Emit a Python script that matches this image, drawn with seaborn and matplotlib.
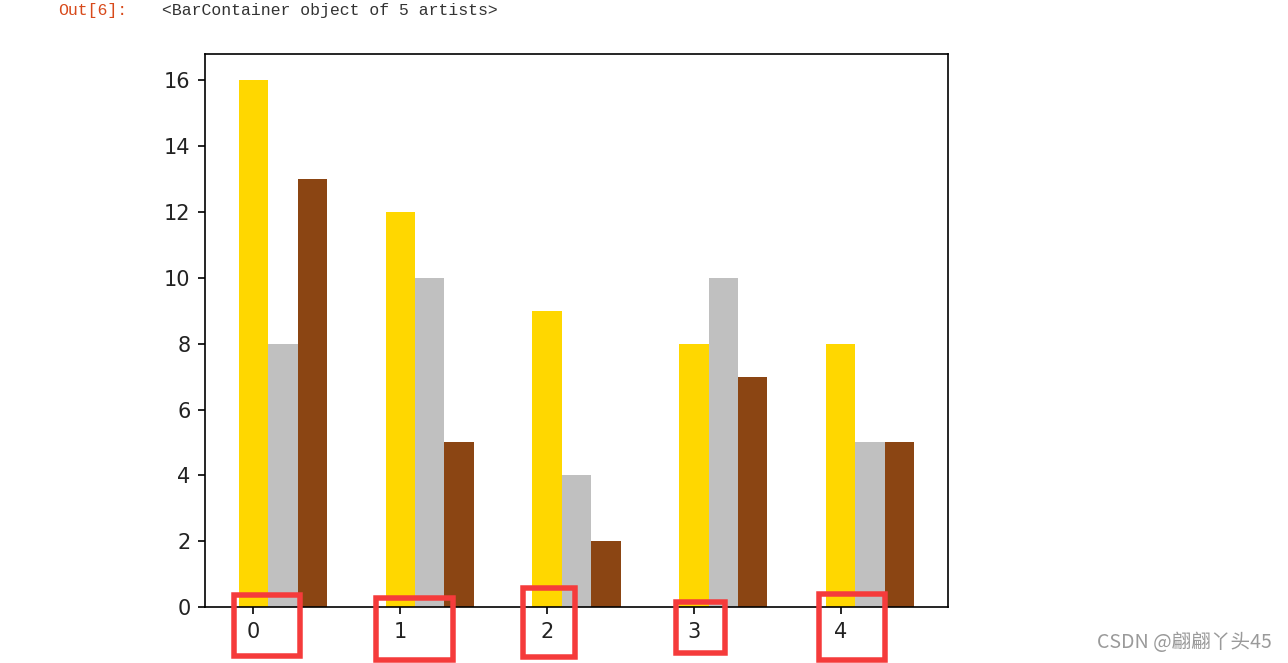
import numpy as np
import pandas as pd
import matplotlib
matplotlib.use("Agg")
import matplotlib.pyplot as plt
from matplotlib.patches import Rectangle
import seaborn as sns

# ---- data ----
groups = [0, 1, 2, 3, 4]
gold = [16, 12, 9, 8, 8]
silver = [8, 10, 4, 10, 5]
bronze = [13, 5, 2, 7, 5]
series_colors = ["#FFD700", "#C0C0C0", "#8B4513"]
tick_labels = ["0", "1", "2", "3", "4"]

W, H, DPI = 1288, 663, 150
fig = plt.figure(figsize=(W / DPI, H / DPI), dpi=DPI)

def fx(px):
    return px / W

def fy(py):
    return 1 - py / H

ax = fig.add_axes([fx(205), fy(607), fx(948) - fx(205), fy(54) - fy(607)])

bw = 0.2
x = np.array(groups, dtype=float)
for i, (vals, col) in enumerate(zip([gold, silver, bronze], series_colors)):
    df = pd.DataFrame({"x": x + i * bw, "y": vals})
    sns.barplot(data=df, x="x", y="y", native_scale=True, width=bw,
                color=col, saturation=1, linewidth=0, errorbar=None, ax=ax)

ax.set_xticks(x)
ax.set_xticklabels(tick_labels)
ax.set_xlim(-0.33, 4.73)
ax.set_ylim(0, 16.8)
ax.set_yticks(np.arange(0, 17, 2))
ax.set_xlabel("")
ax.set_ylabel("")
for s in ax.spines.values():
    s.set_visible(True)
    s.set_linewidth(0.8)
ax.tick_params(labelsize=10, labelcolor="#222222")

# notebook output text
fig.text(fx(58), fy(10), "Out[6]:", color="#D84A1B", fontsize=7.9,
         family="Liberation Mono", ha="left", va="center")
fig.text(fx(162), fy(10), "<BarContainer object of 5 artists>", color="#333333",
         fontsize=7.9, family="Liberation Mono", ha="left", va="center")

# red annotation boxes (outer pixel bounds)
boxes = [(231, 592, 303, 659), (373, 595, 456, 663), (520, 585, 578, 660),
         (673, 599, 728, 656), (816, 591, 888, 663)]
sw = 5.5
for (l, t, r, b) in boxes:
    rect = Rectangle((fx(l + sw / 2), fy(b - sw / 2)),
                     fx(r - l - sw), fy(0) - fy(b - t - sw),
                     transform=fig.transFigure, fill=False,
                     edgecolor="#F53B3B", linewidth=sw * 72 / DPI, clip_on=False)
    fig.patches.append(rect)

# watermark
fig.text(fx(1272), fy(643), "CSDN @翩翩丫头45", color="#9A9A9A", fontsize=9.4,
         family=["Noto Sans CJK SC", "DejaVu Sans"], ha="right", va="center")

fig.savefig("out.png", dpi=DPI)
